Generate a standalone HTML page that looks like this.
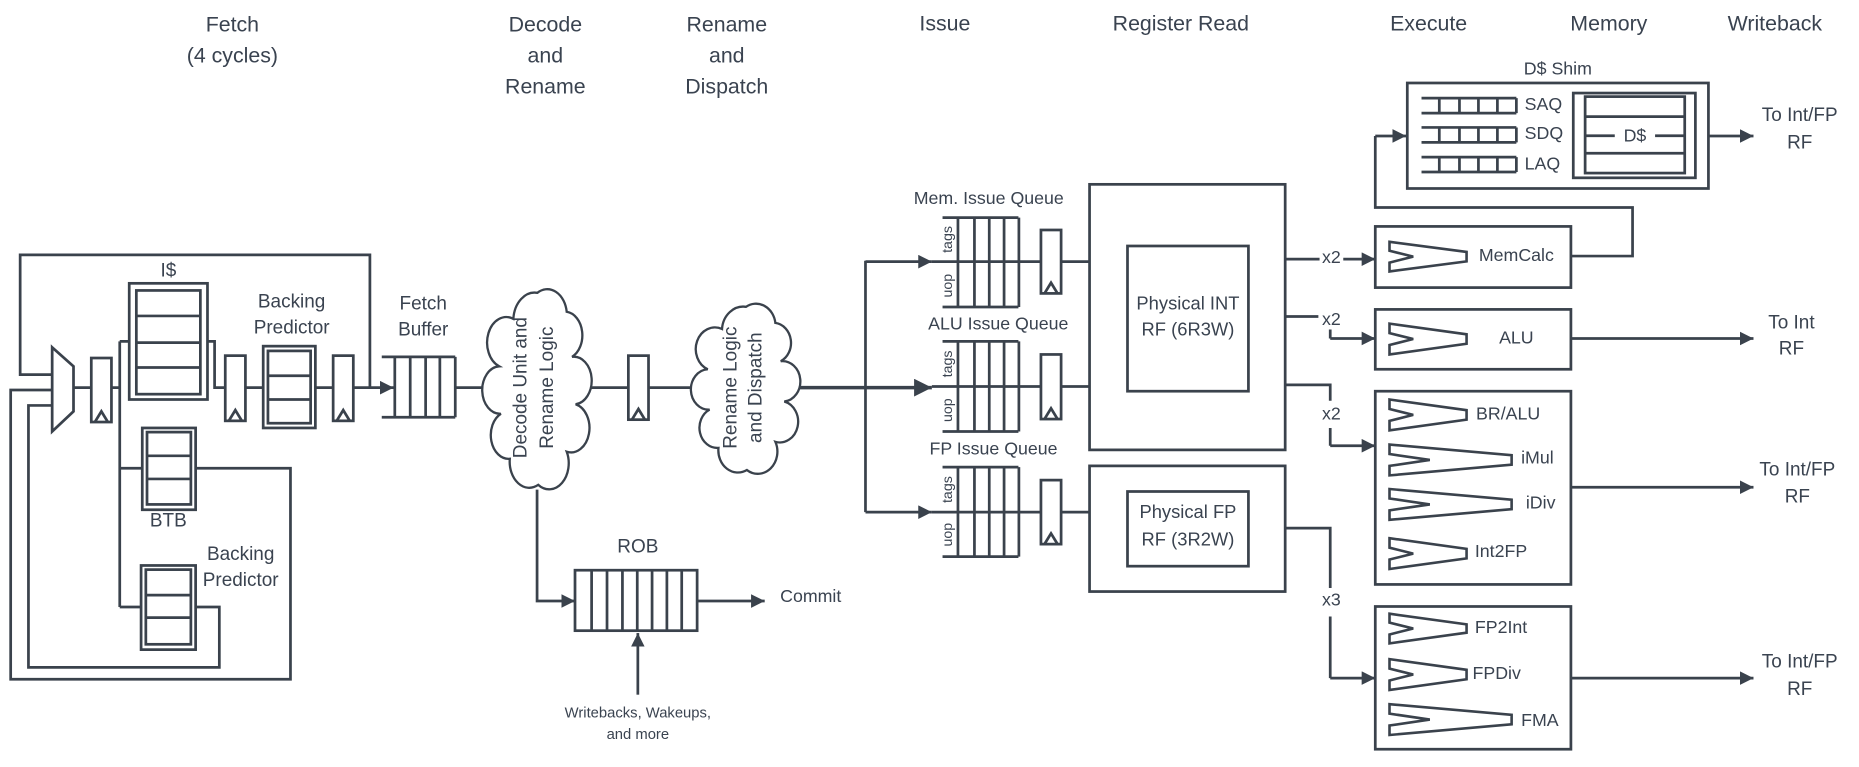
<!DOCTYPE html>
<html><head><meta charset="utf-8"><style>
html,body{margin:0;padding:0;background:#fff;}
svg{display:block;}
text{font-family:"Liberation Sans",Arial,sans-serif;fill:#3a4350;dominant-baseline:middle;}
.h{font-size:18px;text-anchor:middle;}
.l{font-size:16px;text-anchor:middle;}
.s{font-size:15px;}
.t{font-size:12px;text-anchor:middle;}
</style></head><body>
<svg width="1859" height="767" viewBox="0 0 1568 647" preserveAspectRatio="none" xmlns="http://www.w3.org/2000/svg">
<defs>
<marker id="a" viewBox="0 0 10 10" refX="10" refY="5" markerWidth="5" markerHeight="5" orient="auto" markerUnits="strokeWidth"><path d="M0,0 L10,5 L0,10 Z" fill="#3a424c"/></marker>
</defs>
<text class="h" x="196" y="22">Fetch</text><text class="h" x="196" y="48">(4 cycles)</text>
<text class="h" x="460" y="22">Decode</text><text class="h" x="460" y="48">and</text><text class="h" x="460" y="74">Rename</text>
<text class="h" x="613" y="22">Rename</text><text class="h" x="613" y="48">and</text><text class="h" x="613" y="74">Dispatch</text>
<text class="h" x="797" y="21">Issue</text>
<text class="h" x="996" y="21">Register Read</text>
<text class="h" x="1205" y="21">Execute</text>
<text class="h" x="1357" y="21">Memory</text>
<text class="h" x="1497" y="21">Writeback</text>

<g fill="none" stroke="#3a424c" stroke-width="2.3">
<path d="M44,316 H17 V215 H312 V327"/>
<path d="M298,327 H332" marker-end="url(#a)"/>
<path d="M44,329 H9 V573 H245 V395 H165"/>
<path d="M44,342 H24 V563 H185 V512 H165"/>
<path d="M44,293 L62,309 L62,347 L44,364 Z" fill="#fff"/>
<path d="M62,327 H77 M94,327 H101 M101,288 V512 M101,288 H109 M101,395 H120 M101,512 H119"/>
<rect x="77" y="302" width="17" height="54" fill="#fff"/><path d="M80,356 L85.5,347 L91,356"/>
<rect x="109" y="239" width="66" height="98" fill="#fff"/>
<rect x="115" y="245" width="54" height="87.5"/>
<path d="M115,266.5 H169 M115,289 H169 M115,310 H169"/>
<path d="M175,288 H181 V327 H190 M207,327 H222 M266,327 H281"/>
<rect x="190" y="300" width="17" height="55" fill="#fff"/><path d="M193,355 L198.5,346 L204,355"/>
<rect x="222" y="292" width="44" height="69" fill="#fff"/>
<rect x="226" y="296" width="36" height="61"/>
<path d="M226,317 H262 M226,337 H262"/>
<rect x="281" y="300" width="17" height="55" fill="#fff"/><path d="M284,355 L289.5,346 L295,355"/>
<rect x="120" y="361" width="45" height="69" fill="#fff"/>
<rect x="124" y="364.5" width="37" height="61"/>
<path d="M124,384.5 H161 M124,404 H161"/>
<rect x="119" y="477" width="46" height="71" fill="#fff"/>
<rect x="123" y="480.5" width="38" height="63"/>
<path d="M123,502 H161 M123,521 H161"/>
<path d="M322,301 H384 M322,352 H384 M333,301 V352 M346,301 V352 M359,301 V352 M371,301 V352 M384,301 V352"/>
<path d="M384,327 H410 M496,327 H530 M547,327 H583"/>
<path transform="translate(418,239) scale(0.75,1)" d="M20,30 A24 24 0 0 1 47,8 A22 22 0 0 1 80,24 A20 20 0 0 1 86,62 A20 20 0 0 1 90,102 A20 20 0 0 1 80,142 A22 22 0 0 1 48,170 A22 22 0 0 1 16,148 A20 20 0 0 1 6,110 A20 20 0 0 1 4,70 A20 20 0 0 1 20,30 Z" fill="#fff" vector-effect="non-scaling-stroke"/>
<rect x="530" y="300" width="17" height="54" fill="#fff"/><path d="M533,354 L538.5,345 L544,354"/>
<path transform="translate(594,252) scale(0.75,0.85)" d="M20,30 A24 24 0 0 1 47,8 A22 22 0 0 1 80,24 A20 20 0 0 1 86,62 A20 20 0 0 1 90,102 A20 20 0 0 1 80,142 A22 22 0 0 1 48,170 A22 22 0 0 1 16,148 A20 20 0 0 1 6,110 A20 20 0 0 1 4,70 A20 20 0 0 1 20,30 Z" fill="#fff" vector-effect="non-scaling-stroke"/>
<path d="M674,327 H786" stroke-width="3" marker-end="url(#a)"/>
<path d="M730,220 V432"/>
<path d="M730,220.7 H786" marker-end="url(#a)"/>
<path d="M730,432 H786" marker-end="url(#a)"/>
<path d="M453,413 V507 H485" marker-end="url(#a)"/>
<rect x="485" y="481" width="103" height="51" fill="#fff"/>
<path d="M499,481 V532 M512,481 V532 M525,481 V532 M537.5,481 V532 M550,481 V532 M562.5,481 V532 M575,481 V532"/>
<path d="M588,507 H645" marker-end="url(#a)"/>
<path d="M538,586 V534" marker-end="url(#a)"/>
<path d="M795,183.6 H859 M795,259 H859 M786,220.7 H878 M808,183.6 V259 M821.9,183.6 V259 M834.4,183.6 V259 M846.9,183.6 V259 M859.4,183.6 V259"/>
<rect x="878" y="194" width="17" height="53.5" fill="#fff"/><path d="M881,247.5 L886.5,238.5 L892,247.5"/>
<path d="M895,220.7 H919"/>
<path d="M795,288 H859 M795,364 H859 M786,326 H878 M808,288 V364 M821.9,288 V364 M834.4,288 V364 M846.9,288 V364 M859.4,288 V364"/>
<rect x="878" y="299" width="17" height="54.5" fill="#fff"/><path d="M881,353.5 L886.5,344.5 L892,353.5"/>
<path d="M895,326 H919"/>
<path d="M795,394 H859 M795,469.5 H859 M786,432 H878 M808,394 V469.5 M821.9,394 V469.5 M834.4,394 V469.5 M846.9,394 V469.5 M859.4,394 V469.5"/>
<rect x="878" y="405" width="17" height="54" fill="#fff"/><path d="M881,459 L886.5,450 L892,459"/>
<path d="M895,432 H919"/>
<rect x="919" y="155.5" width="165" height="224"/>
<rect x="951" y="207.5" width="102" height="122.5"/>
<rect x="919" y="393" width="165" height="106"/>
<rect x="951" y="414.6" width="102" height="63"/>
<path d="M1084,218.6 H1113"/><path d="M1133,218.6 H1160" marker-end="url(#a)"/>
<path d="M1084,267 H1112 M1122,278 V285.5"/><path d="M1122,285.5 H1160" marker-end="url(#a)"/>
<path d="M1084,324.7 H1122 V338 M1122,361 V376"/><path d="M1122,376 H1160" marker-end="url(#a)"/>
<path d="M1084,445.5 H1122 V496 M1122,520 V572"/><path d="M1122,572 H1160" marker-end="url(#a)"/>
<rect x="1160" y="191" width="165" height="51.6"/>
<rect x="1160" y="261" width="165" height="50.5"/>
<rect x="1160" y="330" width="165" height="163"/>
<rect x="1160" y="511.6" width="165" height="120.4"/>
<path d="M1325,216 H1377 V175 H1160 V114.7"/><path d="M1160,114.7 H1186" marker-end="url(#a)"/>
<path d="M1325,285.5 H1479" marker-end="url(#a)"/>
<path d="M1325,411 H1479" marker-end="url(#a)"/>
<path d="M1325,572 H1479" marker-end="url(#a)"/>
<path d="M1441,114.7 H1479" marker-end="url(#a)"/>
<g stroke-width="2.2">
<path transform="translate(1172,204)" d="M0,0 L65,8.5 L65,16.5 L0,25 L0,17.5 L20,12.5 L0,7.5 Z"/>
<path transform="translate(1172,273)" d="M0,0 L65,9 L65,17 L0,26 L0,18 L20,13 L0,8 Z"/>
<path transform="translate(1172,337)" d="M0,0 L65,9 L65,17 L0,26 L0,18 L20,13 L0,8 Z"/>
<path transform="translate(1172,375)" d="M0,0 L103,9 L103,17 L0,26 L0,18 L34,13 L0,8 Z"/>
<path transform="translate(1172,412.5)" d="M0,0 L103,9 L103,17 L0,26 L0,18 L34,13 L0,8 Z"/>
<path transform="translate(1172,454)" d="M0,0 L65,9 L65,17 L0,26 L0,18 L20,13 L0,8 Z"/>
<path transform="translate(1172,517.7)" d="M0,0 L65,9 L65,16 L0,25 L0,17.5 L20,12.5 L0,7.5 Z"/>
<path transform="translate(1172,556)" d="M0,0 L65,9 L65,17 L0,26 L0,18 L20,13 L0,8 Z"/>
<path transform="translate(1172,594)" d="M0,0 L103,9 L103,17 L0,26 L0,18 L34,13 L0,8 Z"/>
</g>
<rect x="1187" y="70" width="254" height="89"/>
<path d="M1199,82.8 H1279 M1199,95.4 H1279 M1214,82.8 V95.4 M1231,82.8 V95.4 M1247,82.8 V95.4 M1263,82.8 V95.4 M1279,82.8 V95.4"/>
<path d="M1199,107.5 H1279 M1199,120.1 H1279 M1214,107.5 V120.1 M1231,107.5 V120.1 M1247,107.5 V120.1 M1263,107.5 V120.1 M1279,107.5 V120.1"/>
<path d="M1199,132.5 H1279 M1199,145.1 H1279 M1214,132.5 V145.1 M1231,132.5 V145.1 M1247,132.5 V145.1 M1263,132.5 V145.1 M1279,132.5 V145.1"/>
<rect x="1327" y="78.5" width="103" height="71.5"/>
<rect x="1337" y="81.5" width="84" height="64.5"/>
<path d="M1337,98.4 H1421 M1337,129.3 H1421 M1337,114.5 H1362 M1396,114.5 H1421"/>
</g>

<text class="l" x="142" y="229">I$</text>
<text class="l" x="246" y="255">Backing</text><text class="l" x="246" y="277">Predictor</text>
<text class="l" x="357" y="257">Fetch</text><text class="l" x="357" y="279">Buffer</text>
<text class="l" x="142" y="440">BTB</text>
<text class="l" x="203" y="468">Backing</text><text class="l" x="203" y="490">Predictor</text>
<text class="l" transform="translate(440,327) rotate(-90)" x="0" y="0">Decode Unit and</text>
<text class="l" transform="translate(462,327) rotate(-90)" x="0" y="0">Rename Logic</text>
<text class="l" transform="translate(617,327) rotate(-90)" x="0" y="0">Rename Logic</text>
<text class="l" transform="translate(638,327) rotate(-90)" x="0" y="0">and Dispatch</text>
<text class="l" x="538" y="462">ROB</text>
<text class="s" x="658" y="504">Commit</text>
<text class="t" x="538" y="602" style="font-size:12.5px">Writebacks, Wakeups,</text>
<text class="t" x="538" y="620" style="font-size:12.5px">and more</text>
<text class="s" x="834" y="168" text-anchor="middle">Mem. Issue Queue</text>
<text class="s" x="842" y="274" text-anchor="middle">ALU Issue Queue</text>
<text class="s" x="838" y="379.5" text-anchor="middle">FP Issue Queue</text>
<text class="t" transform="translate(800,202) rotate(-90)">tags</text>
<text class="t" transform="translate(800,241) rotate(-90)">uop</text>
<text class="t" transform="translate(800,307) rotate(-90)">tags</text>
<text class="t" transform="translate(800,346) rotate(-90)">uop</text>
<text class="t" transform="translate(800,413) rotate(-90)">tags</text>
<text class="t" transform="translate(800,451) rotate(-90)">uop</text>
<text class="l" x="1002" y="257" style="font-size:15.5px">Physical INT</text>
<text class="l" x="1002" y="279" style="font-size:15.5px">RF (6R3W)</text>
<text class="l" x="1002" y="433" style="font-size:15.5px">Physical FP</text>
<text class="l" x="1002" y="456" style="font-size:15.5px">RF (3R2W)</text>
<text class="l" x="1123" y="218" style="font-size:15px">x2</text>
<text class="l" x="1123" y="270" style="font-size:15px">x2</text>
<text class="l" x="1123" y="350" style="font-size:15px">x2</text>
<text class="l" x="1123" y="507" style="font-size:15px">x3</text>
<text class="l" x="1279" y="216" style="font-size:15px">MemCalc</text>
<text class="l" x="1279" y="286" style="font-size:15px">ALU</text>
<text class="s" x="1245" y="350">BR/ALU</text>
<text class="s" x="1283" y="387">iMul</text>
<text class="s" x="1287" y="425">iDiv</text>
<text class="s" x="1244" y="466">Int2FP</text>
<text class="s" x="1244" y="530">FP2Int</text>
<text class="s" x="1242" y="569">FPDiv</text>
<text class="s" x="1283" y="608.5">FMA</text>
<text class="l" x="1314" y="59" style="font-size:15px">D$ Shim</text>
<text class="s" x="1286" y="89">SAQ</text>
<text class="s" x="1286" y="113.5">SDQ</text>
<text class="s" x="1286" y="139">LAQ</text>
<text class="l" x="1379" y="115.5" style="font-size:15px">D$</text>
<text class="l" x="1518" y="98">To Int/FP</text><text class="l" x="1518" y="121">RF</text>
<text class="l" x="1511" y="273">To Int</text><text class="l" x="1511" y="295">RF</text>
<text class="l" x="1516" y="397">To Int/FP</text><text class="l" x="1516" y="419.5">RF</text>
<text class="l" x="1518" y="559">To Int/FP</text><text class="l" x="1518" y="582">RF</text>
</svg>
</body></html>
